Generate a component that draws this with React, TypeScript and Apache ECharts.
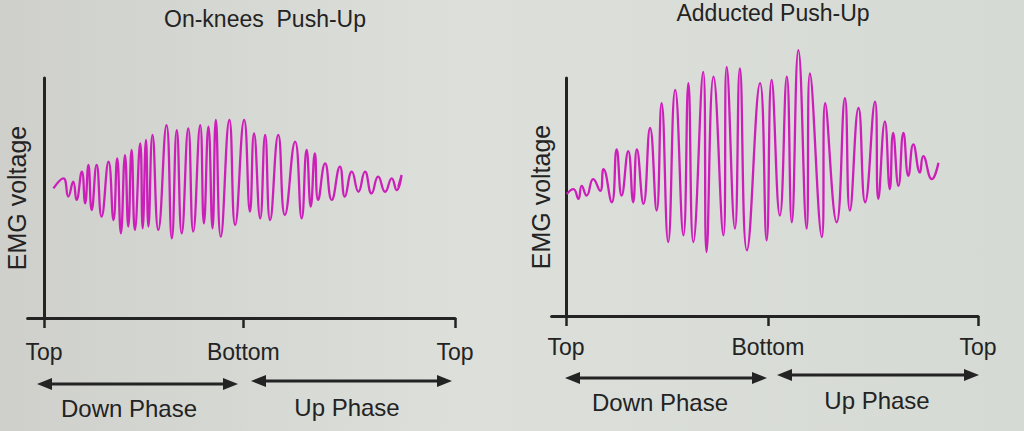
import { useEffect, useRef } from 'react';
import * as echarts from 'echarts';

// positions along the movement (0 = top, ~50 = bottom, 100 = back to top)
const tickLabels = ['Top', 'Bottom', 'Top'];
const kneesTicks = [0, 48.5, 100];
const adductedTicks = [0, 49, 100];
const phaseLabels = ['Down Phase', 'Up Phase'];

// On-knees push-up trace (x = % of rep, v = arbitrary EMG units)
const kneesX = [
  2.3, 4.7, 5.9, 7.1, 7.9, 9.2, 10.0, 10.8, 11.6, 12.8, 14.0, 15.7, 16.9, 17.8, 18.7, 19.7, 20.5,
  21.3, 22.1, 23.4, 24.0, 24.8, 25.4, 26.4, 27.8, 29.8, 31.1, 32.3, 33.5, 35.1, 36.3, 38.0, 38.9,
  40.0, 41.0, 41.8, 43.0, 45.1, 46.5, 48.7, 50.1, 51.1, 52.6, 53.8, 55.0, 57.0, 58.6, 61.1, 62.7,
  63.9, 64.9, 65.9, 66.7, 68.4, 70.0, 72.0, 73.2, 74.9, 76.5, 78.1, 79.7, 81.3, 83.0, 84.6, 85.8,
  87.0, 86.2,
];
const kneesV = [
  54.0, 58.2, 50.6, 56.8, 49.2, 61.0, 47.8, 63.8, 45.0, 63.8, 42.2, 65.1, 40.8, 66.5, 35.3, 67.9,
  38.1, 70.0, 36.7, 72.8, 37.4, 74.2, 38.1, 76.3, 36.7, 80.4, 33.2, 78.3, 35.3, 79.0, 36.0, 80.4,
  39.4, 79.7, 37.4, 82.5, 33.9, 82.5, 38.8, 82.5, 44.3, 76.9, 41.5, 76.3, 40.8, 76.3, 42.9, 73.5,
  41.5, 70.0, 46.4, 68.6, 49.2, 64.4, 49.2, 63.1, 50.6, 61.0, 52.6, 61.0, 51.9, 58.9, 52.6, 58.2,
  53.3, 59.6, 54.7,
];

// Adducted push-up trace
const adductedX = [
  0.2, 1.8, 3.0, 3.8, 5.0, 6.6, 8.3, 9.1, 11.1, 12.3, 13.5, 15.1, 16.3, 17.2, 18.8, 20.4, 22.0,
  23.2, 24.8, 26.5, 28.5, 29.7, 30.9, 33.3, 34.1, 35.8, 38.2, 39.0, 41.0, 42.2, 43.9, 47.1, 48.7,
  49.9, 51.9, 53.6, 54.8, 56.4, 58.4, 59.2, 62.1, 62.9, 65.7, 67.7, 68.9, 71.0, 72.6, 75.0, 75.8,
  77.4, 78.6, 79.4, 80.7, 81.9, 83.1, 84.3, 85.9, 86.7, 88.8, 90.4,
];
const adductedV = [
  51.3, 53.3, 49.2, 54.7, 50.6, 57.5, 52.6, 61.7, 47.8, 70.0, 50.6, 69.3, 47.8, 70.0, 47.1, 79.0,
  44.3, 89.4, 31.1, 95.0, 33.9, 97.8, 31.1, 102.6, 26.9, 100.6, 33.9, 104.7, 36.7, 104.0, 27.6,
  97.8, 31.8, 99.2, 42.2, 100.6, 39.4, 111.7, 36.7, 101.9, 33.2, 89.4, 39.4, 91.5, 44.3, 87.4, 47.8,
  90.1, 49.2, 81.8, 53.3, 76.9, 54.7, 76.9, 58.9, 72.1, 60.3, 67.2, 57.5, 64.4,
];

const INK = '#232323';
const PEN = '#cc1fba';
const FONT = '"Liberation Sans", Arial, sans-serif';

const zip = (xs: number[], ys: number[]) => xs.map((x, i) => [x, ys[i]]);

const label = (text: string, x: number, y: number, size: number) => ({
  type: 'text',
  x,
  y,
  silent: true,
  style: {
    text,
    fill: INK,
    font: `${size}px ${FONT}`,
    align: 'center',
    verticalAlign: 'middle',
  },
});

const arrow = (x1: number, x2: number, y: number) => ({
  type: 'group',
  silent: true,
  children: [
    { type: 'line', shape: { x1: x1 + 8, y1: y, x2: x2 - 8, y2: y }, style: { stroke: INK, lineWidth: 3 } },
    { type: 'polygon', shape: { points: [[x1, y], [x1 + 15, y - 6], [x1 + 15, y + 6]] }, style: { fill: INK } },
    { type: 'polygon', shape: { points: [[x2, y], [x2 - 15, y - 6], [x2 - 15, y + 6]] }, style: { fill: INK } },
  ],
});

const xAxisFor = (grid: number, min: number, ticks: number[], margin: number) => ({
  type: 'value',
  gridIndex: grid,
  min,
  max: 100,
  splitLine: { show: false },
  axisLine: { lineStyle: { color: INK, width: 3 } },
  axisTick: { customValues: ticks, length: 10, lineStyle: { color: INK, width: 2.5 } },
  axisLabel: {
    customValues: ticks,
    margin,
    color: INK,
    fontSize: 23,
    fontFamily: FONT,
    formatter: (v: number) => tickLabels[ticks.indexOf(v)] ?? '',
  },
});

const yAxisFor = (grid: number) => ({
  type: 'value',
  gridIndex: grid,
  min: 0,
  max: 100,
  name: 'EMG voltage',
  nameLocation: 'middle',
  nameRotate: 90,
  nameGap: -2,
  nameTextStyle: { color: INK, fontSize: 25, fontFamily: FONT },
  splitLine: { show: false },
  axisTick: { show: false },
  axisLabel: { show: false },
  axisLine: { show: true, onZero: true, lineStyle: { color: INK, width: 3 } },
});

const App = () => {
  const chartRef = useRef<HTMLDivElement>(null);

  useEffect(() => {
    const chart = echarts.init(chartRef.current!, null, { renderer: 'svg' });

    chart.setOption({
      animation: false,
      backgroundColor: {
        type: 'linear',
        x: 0,
        y: 0,
        x2: 1,
        y2: 0,
        colorStops: [
          { offset: 0, color: '#cfd0cc' },
          { offset: 0.45, color: '#dcdfda' },
          { offset: 1, color: '#d6dad4' },
        ],
      },
      grid: [
        { left: 27.6, top: 78, width: 427.4, height: 240, outerBoundsMode: 'none' },
        { left: 551.6, top: 78, width: 426.4, height: 238, outerBoundsMode: 'none' },
      ],
      xAxis: [xAxisFor(0, -4, kneesTicks, 22), xAxisFor(1, -3.5, adductedTicks, 19)],
      yAxis: [yAxisFor(0), yAxisFor(1)],
      series: [
        {
          name: 'On-knees Push-Up',
          type: 'line',
          xAxisIndex: 0,
          yAxisIndex: 0,
          data: zip(kneesX, kneesV),
          smooth: 0.5,
          showSymbol: false,
          clip: false,
          lineStyle: { color: PEN, width: 2.3 },
        },
        {
          name: 'Adducted Push-Up',
          type: 'line',
          xAxisIndex: 1,
          yAxisIndex: 1,
          data: zip(adductedX, adductedV),
          smooth: 0.5,
          showSymbol: false,
          clip: false,
          lineStyle: { color: PEN, width: 2.3 },
        },
      ],
      graphic: [
        label('On-knees  Push-Up', 265, 19, 23),
        label('Adducted Push-Up', 773, 13, 23),
        arrow(37, 238, 384),
        arrow(251, 452, 381),
        arrow(565, 767, 378),
        arrow(777, 979, 375),
        label(phaseLabels[0], 129, 408, 24),
        label(phaseLabels[1], 347, 407, 24),
        label(phaseLabels[0], 660, 402, 24),
        label(phaseLabels[1], 877, 400, 24),
      ],
    });

    return () => {
      chart.dispose();
    };
  }, []);

  return (
    <div
      ref={chartRef}
      style={{ position: 'fixed', left: 0, top: 0, width: 1024, height: 431 }}
    />
  );
};

export default App;
